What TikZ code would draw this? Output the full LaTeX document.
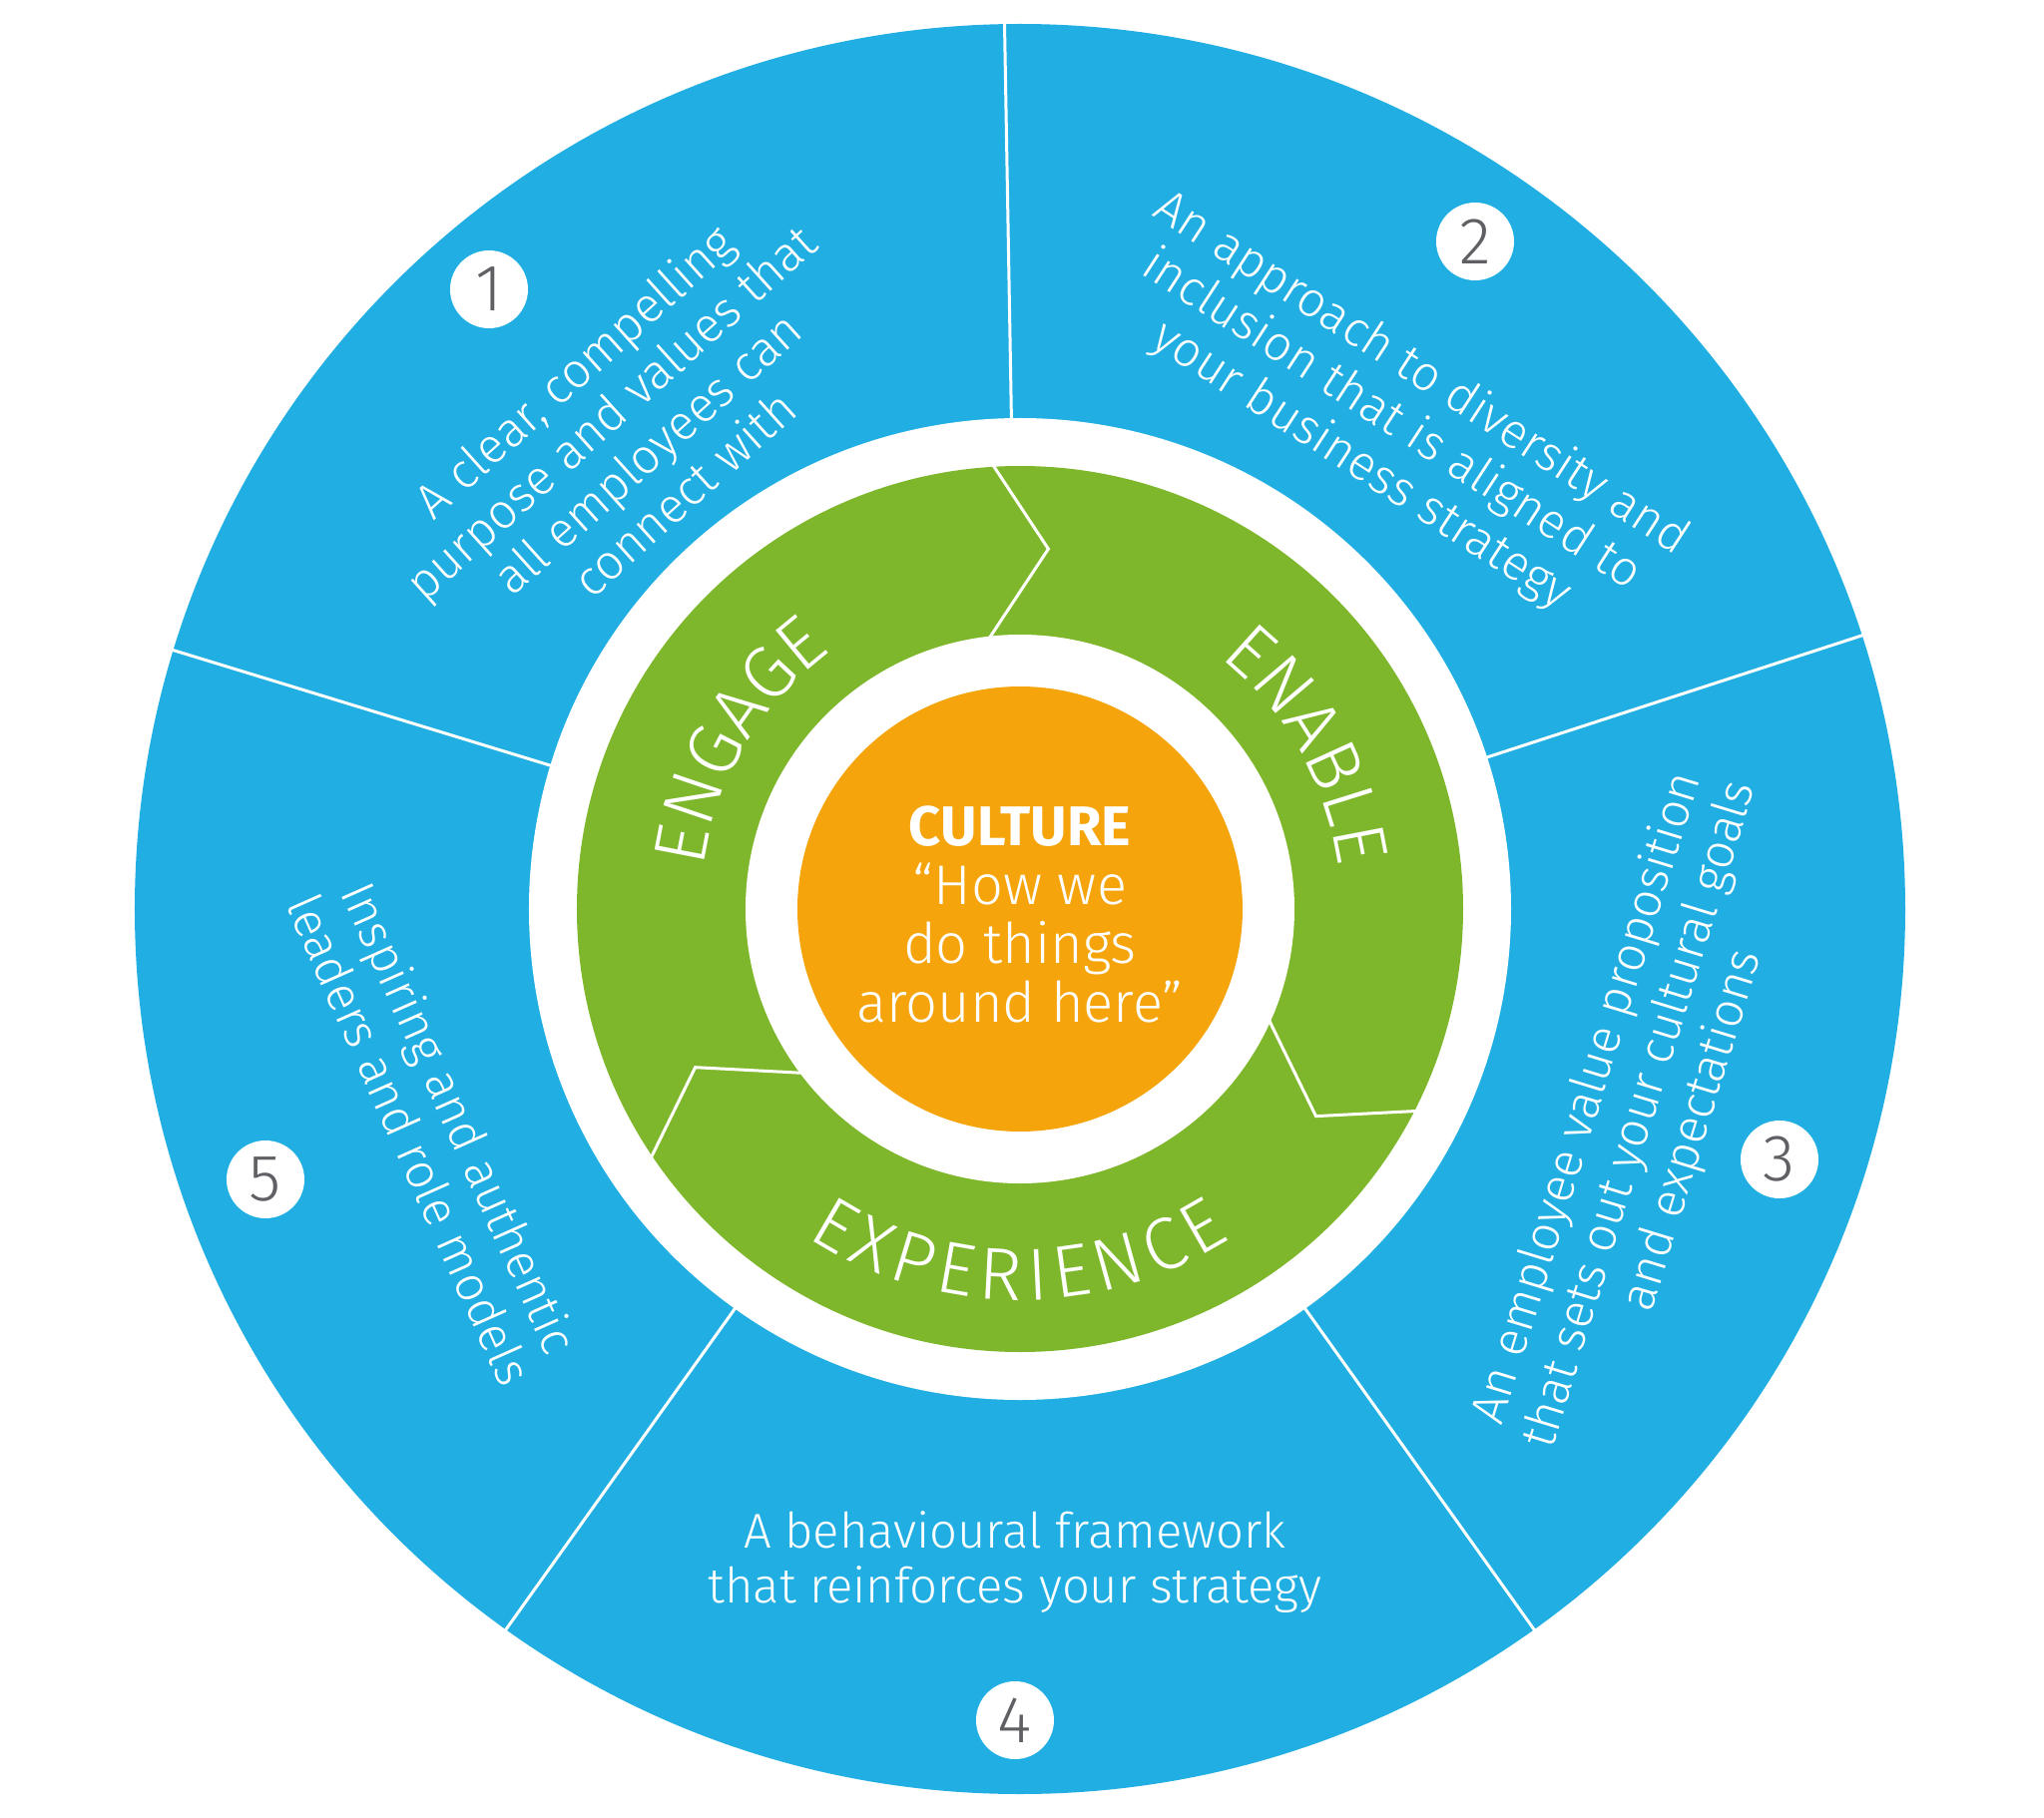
\documentclass[tikz,border=0pt]{standalone}
\usepackage{fontspec}
\setmainfont{Fira Sans Light}
\newfontfamily\headfont{Fira Sans}
\usetikzlibrary{decorations.text}

\definecolor{wheelblue}{RGB}{33,175,227}
\definecolor{wheelgreen}{RGB}{126,183,43}
\definecolor{wheelorange}{RGB}{245,164,12}
\definecolor{digitgray}{RGB}{96,96,100}

\newcommand{\blurbfont}{\fontsize{49}{55}\selectfont}
\newcommand{\ringfont}{\fontsize{74}{74}\selectfont}
\newcommand{\corefont}{\fontsize{56}{59}\selectfont}
\newcommand{\digitfont}{\fontsize{66}{66}\selectfont}

\begin{document}
\begin{tikzpicture}[x=1pt,y=1pt,
  divider/.style={white,line width=3pt},
  notch/.style={white,line width=3pt,line join=miter},
  numdot/.style={circle,fill=white,minimum size=78pt,inner sep=0pt,text=digitgray,font=\digitfont},
  blurb/.style={text=white,align=center,font=\blurbfont},
  ringword/.style={decorate,decoration={text along path,text align=fit to path,text color=white}}]
\useasboundingbox (-1022,-910) rectangle (1026,911);
\fill[wheelblue] (0,0) circle (887);
\fill[white] (0,0) circle (492);
\fill[wheelgreen] (0,0) circle (444);
\fill[white] (0,0) circle (275);
\fill[wheelorange] (0,0) circle (223);
% spokes between the five blue sectors
\foreach \a in {18,91,163,234.5,305.5}
  \draw[divider] (\a:480) -- (\a:890);
% arrow-shaped cuts in the green ring
\foreach \a in {93.5,214,333}
  \draw[notch] (\a:446) -- (\a-8:362) -- (\a+3:273);
% ring words
\path[ringword,decoration={text={|\ringfont|ENGAGE}}] (172.5:320) arc[start angle=172.5,end angle=127,radius=320];
\path[ringword,decoration={text={|\ringfont|ENABLE}}] (51.5:322) arc[start angle=51.5,end angle=8.5,radius=322];
\path[ringword,decoration={text={|\ringfont|EXPERIENCE}}] (237:392) arc[start angle=237,end angle=302.6,radius=392];

\node[text=white,align=center,font=\corefont] (core) at (0,-5) {{\headfont\bfseries CULTURE}\\“How we\\do things\\around here”};

\node[numdot] (n1) at (-532,621) {1};
\node[numdot] (n2) at (456,669) {2};
\node[numdot] (n3) at (761,-251) {3};
\node[numdot] (n4) at (-5,-813) {4};
\node[numdot] (n5) at (-756,-271) {5};

\node[blurb,rotate=42] (b1) at (-392,478) {A clear, compelling\\purpose and values that\\all employees can\\connect with};
\node[blurb,rotate=-33] (b2) at (372,490) {An approach to diversity and\\inclusion that is aligned to\\your business strategy};
\node[blurb,rotate=73] (b3) at (622,-206) {An employee value proposition\\that sets out your cultural goals\\and expectations};
\node[blurb] (b4) at (-5,-655) {A behavioural framework\\that reinforces your strategy};
\node[blurb,rotate=-66] (b5) at (-586,-220) {Inspiring and authentic\\leaders and role models};
\end{tikzpicture}
\end{document}
